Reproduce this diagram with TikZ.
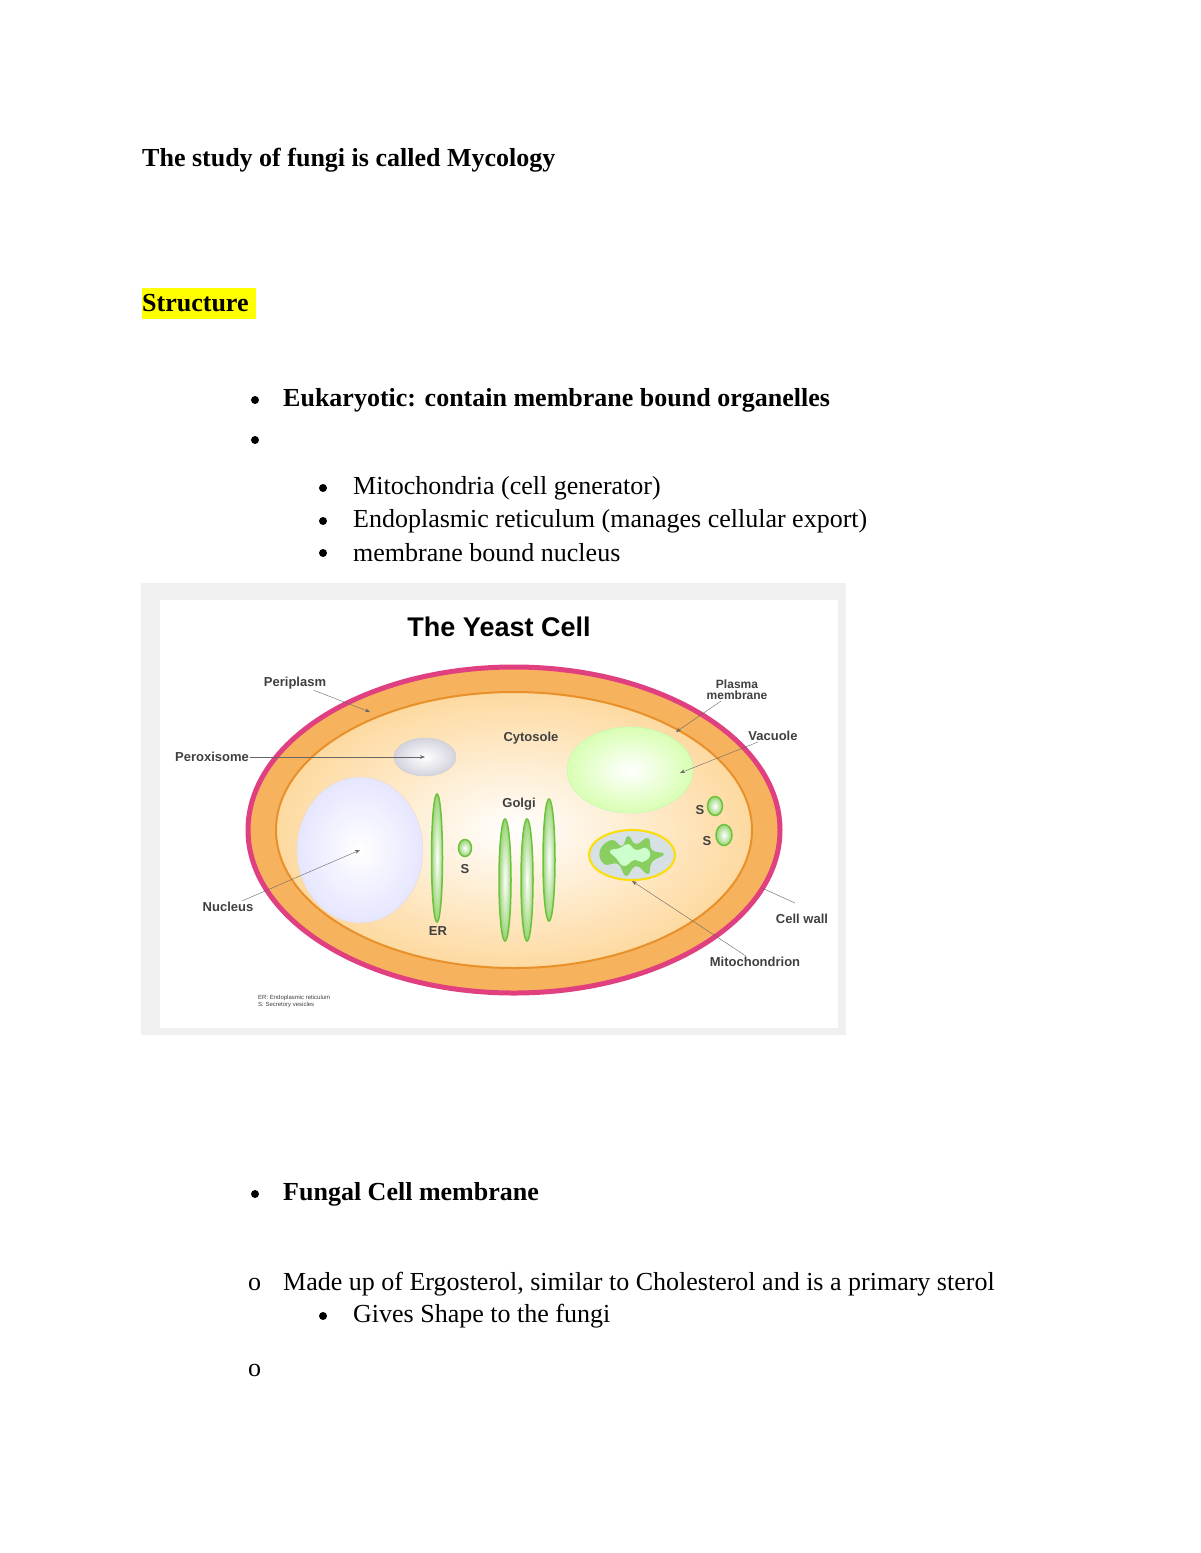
\documentclass[tikz,border=0pt]{standalone}
\usepackage{fontspec}
\setmainfont{Liberation Serif}
\setsansfont{Liberation Sans}
\usetikzlibrary{positioning,arrows.meta,shapes.geometric}
\definecolor{wallpink}{HTML}{E0407F}
\definecolor{bandorange}{HTML}{F7B25E}
\definecolor{membrane}{HTML}{E8902A}
\definecolor{cytosol}{HTML}{FDF0C8}
\definecolor{ergreen}{HTML}{6CC23A}
\definecolor{hiyellow}{HTML}{FFFF00}
\begin{document}
\begin{tikzpicture}[x=1pt,y=-1pt,
    body/.style={font=\fontsize{26}{30}\selectfont,anchor=west,inner sep=0pt},
    bodybf/.style={body,font=\fontsize{26}{30}\selectfont\bfseries},
    bul/.style={circle,fill=black,inner sep=0pt,minimum size=8pt},
    lbl/.style={font=\sffamily\bfseries\fontsize{13}{14}\selectfont,text=black!75,inner sep=1pt},
    pointer/.style={draw=gray!80!black,thin,-{Stealth[length=5pt]}},
    lens/.style={ellipse,draw=ergreen,line width=1.5pt,inner color=white,outer color=ergreen!70,inner sep=0pt}]
  \useasboundingbox (0,0) rectangle (1200,1553);
  \fill[white] (0,0) rectangle (1200,1553);
  % page text
  \node[bodybf] (title) at (142,160) {The study of fungi is called Mycology};
  \fill[hiyellow] (142,288) rectangle (256,319);
  \node[bodybf] (struct) at (142,303) {Structure};
  \node[bul] (b1) at (255,400) {};
  \node[bodybf] (euk) at (283,400) {Eukaryotic: contain membrane bound organelles};
  \node[bul] (b2) at (255,440) {};
  \foreach \y/\t in {488/Mitochondria (cell generator),
                     521/Endoplasmic reticulum (manages cellular export),
                     553/membrane bound nucleus} {
    \node[bul] at (323,\y) {};
    \node[body] at (353,\y) {\t};
  }
  \node[bul] (b3) at (255,1194) {};
  \node[bodybf] (memb) at (283,1194) {Fungal Cell membrane};
  \node[body] (o1) at (248,1284) {o};
  \node[body] (ergo) at (283,1284) {Made up of Ergosterol, similar to Cholesterol and is a primary sterol};
  \node[bul] (b4) at (323,1316) {};
  \node[body] (shape) at (353,1316) {Gives Shape to the fungi};
  \node[body] (o2) at (248,1370) {o};
  % figure frame
  \fill[black!6] (141,583) rectangle (846,1035);
  \fill[white] (160,600) rectangle (838,1028);
  \node[font=\sffamily\bfseries\fontsize{27}{30}\selectfont] (yeast) at (499,627) {The Yeast Cell};
  % cell
  \draw[wallpink,line width=5pt,fill=bandorange] (514,830) ellipse (266 and 163);
  \draw[membrane,line width=2pt,inner color=white,outer color=cytosol!80!orange] (514,830) ellipse (238 and 138);
  \node[ellipse,minimum width=62pt,minimum height=38pt,draw=gray!40,inner color=white,outer color=blue!15!gray!30] (perox) at (425,757) {};
  \node[ellipse,minimum width=126pt,minimum height=86pt,draw=green!30,inner color=white,outer color=green!50!yellow!30] (vac) at (630,770) {};
  \node[ellipse,minimum width=126pt,minimum height=146pt,draw=brown!30,inner color=white,outer color=blue!10] (nuc) at (360,850) {};
  \node[lens,minimum width=11pt,minimum height=128pt] (er) at (437,858) {};
  \foreach \x/\y/\n in {505/880/g1,527/880/g2,549/860/g3}
    \node[lens,minimum width=12pt,minimum height=122pt] (\n) at (\x,\y) {};
  \node[lens,minimum width=13pt,minimum height=17pt] (s1) at (465,848) {};
  \node[lens,minimum width=15pt,minimum height=19pt] (s2) at (715,806) {};
  \node[lens,minimum width=16pt,minimum height=21pt] (s3) at (724,835) {};
  \node[ellipse,minimum width=86pt,minimum height=50pt,draw=yellow!80!orange,line width=2pt,fill=cyan!20!gray!30] (mito) at (632,855) {};
  \fill[ergreen!80]
    plot[smooth cycle,tension=0.8] coordinates {(600,850) (612,840) (622,846) (628,836) (636,844) (648,838) (652,850) (664,854) (652,862) (648,874) (636,866) (626,876) (618,864) (604,864)};
  \fill[green!20]
    plot[smooth cycle,tension=0.8] coordinates {(610,851) (620,848) (628,844) (636,850) (646,848) (650,856) (642,862) (634,860) (624,866) (616,858)};
  % labels
  \node[lbl] (lperi) at (295,683) {Periplasm};
  \node[lbl,align=center,font=\sffamily\bfseries\fontsize{12}{11}\selectfont] (lplasma) at (737,690) {Plasma\\membrane};
  \node[lbl] (lcyto) at (531,738) {Cytosole};
  \node[lbl] (lvac) at (773,736) {Vacuole};
  \node[lbl] (lperox) at (212,757) {Peroxisome};
  \node[lbl] (lgolgi) at (519,804) {Golgi};
  \node[lbl] (lnuc) at (228,907) {Nucleus};
  \node[lbl] (ler) at (438,931) {ER};
  \node[lbl] (lcw) at (802,919) {Cell wall};
  \node[lbl] (lmito) at (755,962) {Mitochondrion};
  \node[lbl] at (465,869) {S};
  \node[lbl] at (700,810) {S};
  \node[lbl] at (707,841) {S};
  \node[lbl,anchor=west,align=left,font=\sffamily\fontsize{6}{7}\selectfont] (foot) at (257,1001) {ER: Endoplasmic reticulum\\S: Secretory vesicles};
  \coordinate (cw) at (762,888);
  \draw[pointer] (lperi) -- (370,712);
  \draw[pointer] (lplasma) -- (676,732);
  \draw[pointer] (lvac) -- (680,773);
  \draw[pointer] (lperox) -- (perox.center);
  \draw[pointer] (lnuc) -- (nuc.center);
  \draw[pointer] (lmito) -- (mito.south);
  \draw[gray!80!black,thin] (795,903) -- (cw);
\end{tikzpicture}
\end{document}
